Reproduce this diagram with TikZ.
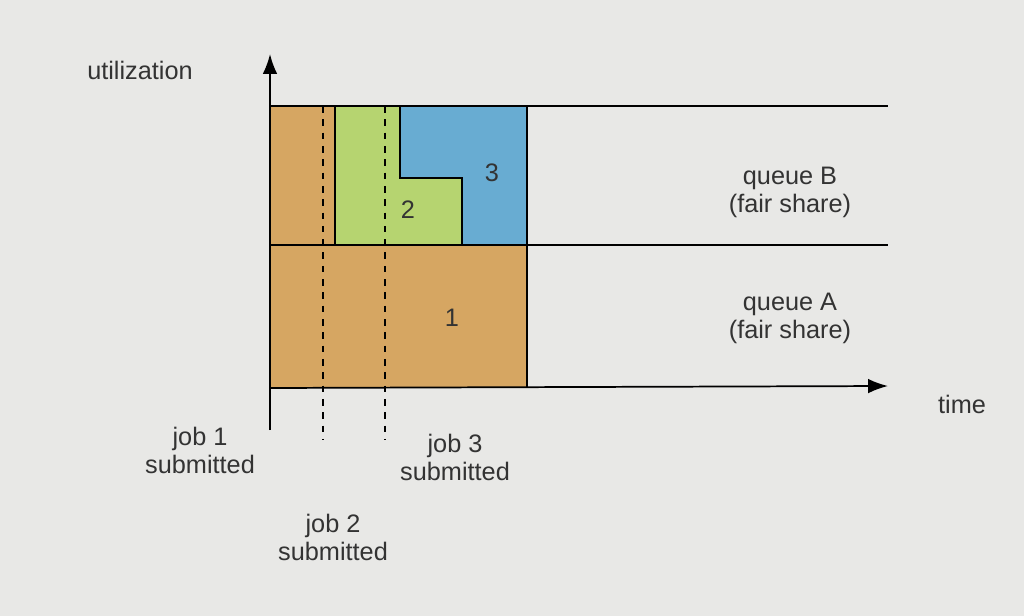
\documentclass[tikz,border=0pt]{standalone}
\usepackage{fontspec}
\setmainfont{Liberation Sans}
\usetikzlibrary{arrows.meta}
\definecolor{bg}{RGB}{232,232,230}
\definecolor{jorange}{RGB}{214,166,98}
\definecolor{jgreen}{RGB}{182,212,112}
\definecolor{jblue}{RGB}{104,172,210}
\begin{document}
\begin{tikzpicture}[x=0.0264cm,y=-0.0264cm,
  lbl/.style={font=\fontsize{19}{21}\selectfont,align=center,text=black!80},
  num/.style={font=\fontsize{19}{21}\selectfont,text=black!80},
  ax/.style={line width=1.3pt,-{Latex[length=15pt,width=11pt]}},
  ln/.style={line width=1.3pt},
  dsh/.style={line width=1.5pt,dash pattern=on 5pt off 5pt}]
\fill[bg] (0,0) rectangle (1024,616);
\useasboundingbox (0,0) rectangle (1024,616);
\fill[jorange] (270,245) rectangle (527,388);
\fill[jorange] (270,106) rectangle (335,245);
\fill[jgreen] (335,106) -- (400,106) -- (400,178) -- (462,178) -- (462,245) -- (335,245) -- cycle;
\fill[jblue] (400,106) -- (527,106) -- (527,245) -- (462,245) -- (462,178) -- (400,178) -- cycle;
\draw[ln] (335,106) -- (335,245);
\draw[ln] (400,106) -- (400,178) -- (462,178) -- (462,245);
\draw[ln] (527,106) -- (527,388);
\draw[ln] (270,106) -- (888,106);
\draw[ln] (270,245) -- (888,245);
\coordinate (yb) at (270,430);
\coordinate (yt) at (270,54);
\coordinate (xl) at (270,388);
\coordinate (xr) at (888,386);
\draw[ax] (yb) -- (yt);
\draw[ax] (xl) -- (xr);
\draw[dsh] (323,106) -- (323,440);
\draw[dsh] (385,106) -- (385,440);
\node[num] (n1) at (452,318) {1};
\node[num] (n2) at (408,210) {2};
\node[num] (n3) at (492,173) {3};
\node[lbl] (qb) at (790,192) {queue B\\(fair share)};
\node[lbl] (qa) at (790,318) {queue A\\(fair share)};
\node[lbl] (tm) at (962,404) {time};
\node[lbl] (ut) at (140,70) {utilization};
\node[lbl] (j1) at (200,450) {job 1\\submitted};
\node[lbl] (j2) at (333,537) {job 2\\submitted};
\node[lbl] (j3) at (455,457) {job 3\\submitted};
\end{tikzpicture}
\end{document}
